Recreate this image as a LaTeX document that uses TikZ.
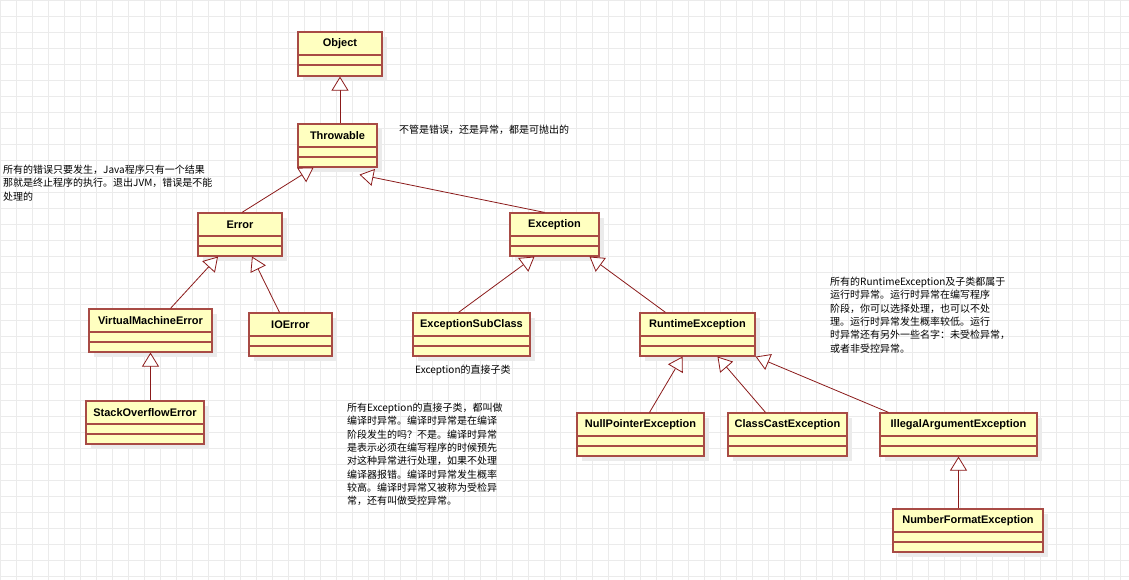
\documentclass[tikz,border=0pt]{standalone}
\usepackage{fontspec}
\setmainfont{Liberation Sans}
\newfontfamily\cjk{Noto Sans CJK SC}
\usetikzlibrary{arrows.meta,calc}
\definecolor{boxfill}{HTML}{FFFFC0}
\definecolor{boxline}{HTML}{A84B45}
\definecolor{conn}{HTML}{8B1A1A}
\tikzset{
  cls/.style={draw=boxline,fill=boxfill,line width=1.2pt,inner sep=0pt},
  clsname/.style={font=\bfseries\fontsize{11}{13}\selectfont,inner sep=0pt},
  note/.style={font=\cjk\fontsize{10}{13.3}\selectfont,align=left,anchor=north west,inner sep=0pt},
  inh/.style={draw=conn,line width=0.8pt,-{Triangle[open,length=14pt,width=17pt,fill=white]}},
}
\newcommand\umlcls[6]{%
  \fill[black!8] (#2+5,#3+5) rectangle (#4+5,#5+5);
  \node[cls,minimum width={#4-#2},minimum height={#5-#3}] (#1) at ({(#2+#4)/2},{(#3+#5)/2}) {};
  \draw[boxline,line width=1.2pt] (#2,#3+23) -- (#4,#3+23) (#2,#3+33) -- (#4,#3+33);
  \node[clsname] (#1-t) at ({(#2+#4)/2},#3+11.5) {#6};
}
\begin{document}
\begin{tikzpicture}[x=1pt,y=-1pt]
\fill[white] (0,0) rectangle (1129,580);
\useasboundingbox (0,0) rectangle (1129,580);
\draw[black!8,line width=0.6pt,step=16pt] (0,0) grid (1129,580);
\umlcls{object}{298}{32}{382}{76}{Object}
\umlcls{throwable}{298}{124}{377}{167}{Throwable}
\umlcls{error}{198}{213}{282}{256}{Error}
\umlcls{exception}{510}{213}{599}{256}{Exception}
\umlcls{vme}{89}{309}{212}{352}{VirtualMachineError}
\umlcls{ioerror}{249}{313}{332}{356}{IOError}
\umlcls{esc}{413}{313}{530}{356}{ExceptionSubClass}
\umlcls{runtime}{640}{313}{755}{356}{RuntimeException}
\umlcls{soe}{86}{401}{204}{444}{StackOverflowError}
\umlcls{npe}{577}{413}{704}{456}{NullPointerException}
\umlcls{cce}{728}{413}{847}{456}{ClassCastException}
\umlcls{iae}{880}{413}{1037}{456}{IllegalArgumentException}
\umlcls{nfe}{893}{509}{1043}{552}{NumberFormatException}

\draw[inh] (throwable.north -| object.south) -- (object.south);
\draw[inh] ([xshift=2pt]error.north) -- ([xshift=-24pt]throwable.south);
\draw[inh] ([xshift=-10pt]exception.north) -- ([xshift=22pt,yshift=-7pt]throwable.south);
\draw[inh] ([xshift=20pt]vme.north) -- ([xshift=-22pt]error.south);
\draw[inh] ([xshift=-11pt]ioerror.north) -- ([xshift=12pt]error.south);
\draw[inh] ([xshift=-13pt]esc.north) -- ([xshift=-20pt]exception.south);
\draw[inh] ([xshift=-32pt]runtime.north) -- ([xshift=35pt]exception.south);
\draw[inh] (soe.north -| vme.south) -- (vme.south);
\draw[inh] ([xshift=9pt]npe.north) -- ([xshift=-15pt]runtime.south);
\draw[inh] ([xshift=-22pt]cce.north) -- ([xshift=20pt]runtime.south);
\draw[inh] ([xshift=-70pt]iae.north) -- (runtime.south east);
\draw[inh] (nfe.north -| iae.south) -- (iae.south);

\node[note] (n1) at (399,125) {不管是错误，还是异常，都是可抛出的};
\node[note] (n2) at (3,165) {所有的错误只要发生，Java程序只有一个结果\\那就是终止程序的执行。退出JVM，错误是不能\\处理的};
\node[note] (n3) at (415,365) {Exception的直接子类};
\node[note] (n4) at (347,403) {所有Exception的直接子类，都叫做\\编译时异常。编译时异常是在编译\\阶段发生的吗？不是。编译时异常\\是表示必须在编写程序的时候预先\\对这种异常进行处理，如果不处理\\编译器报错。编译时异常发生概率\\较高。编译时异常又被称为受检异\\常，还有叫做受控异常。};
\node[note] (n5) at (830,277) {所有的RuntimeException及子类都属于\\运行时异常。运行时异常在编写程序\\阶段，你可以选择处理，也可以不处\\理。运行时异常发生概率较低。运行\\时异常还有另外一些名字：未受检异常，\\或者非受控异常。};
\end{tikzpicture}
\end{document}
